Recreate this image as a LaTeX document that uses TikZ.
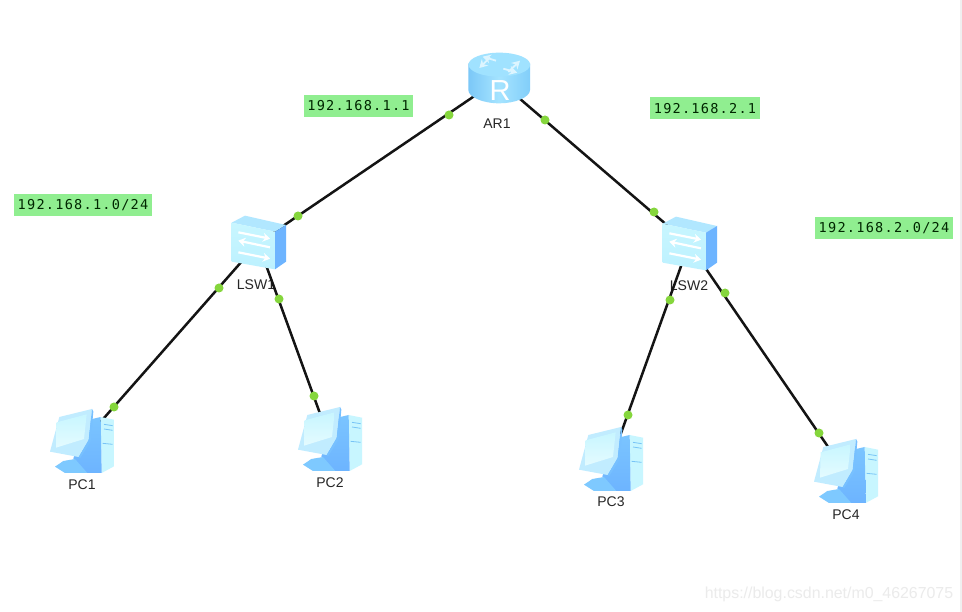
\documentclass[tikz,border=0pt]{standalone}
\usepackage{fontspec}
\setmainfont{Liberation Sans}
\newfontfamily\ipfont[LetterSpace=9]{DejaVu Sans Mono}
\definecolor{ipgreen}{HTML}{90EE90}
\definecolor{dotgreen}{HTML}{85D63C}
\definecolor{icona}{HTML}{8FDDFF}
\definecolor{iconb}{HTML}{78C4F6}
\definecolor{iconc}{HTML}{6DB4FF}
\definecolor{icond}{HTML}{C8F6FF}
\definecolor{icone}{HTML}{E4FBFF}
\usetikzlibrary{calc,arrows.meta}
\tikzset{
  anchorpt/.style={inner sep=0pt,minimum size=0pt},
  iplabel/.style={fill=ipgreen,inner sep=0pt,font=\ipfont\fontsize{13.6}{16}\selectfont,text=black!85!green,anchor=center},
  devlabel/.style={inner sep=0pt,font=\fontsize{14}{16}\selectfont,text=black!85},
  link/.style={draw=black!92,line width=2.5pt},
  portdot/.style={circle,fill=dotgreen,inner sep=0pt,minimum size=9pt},
  routerarrow/.style={draw=white!70!icona,line width=1.8pt,-{Stealth[length=8pt,width=9pt]}},
  router/.pic={
    \begin{scope}[shift={(-58,-40)},scale=1/3]
      \path[left color=iconb!85!icona,right color=iconb!60!icona,middle color=icona!80!white]
        (85,70) -- (85,150) .. controls (85,172) and (130,190) .. (178,190)
        .. controls (225,190) and (270,172) .. (270,150) -- (270,70) -- cycle;
      \path[fill=icona!85!white] (178,74) ellipse [x radius=92.5,y radius=36];
      \draw[routerarrow] (168,62) -- (128,50);
      \draw[routerarrow] (190,86) -- (232,98);
      \draw[routerarrow] (150,52) -- (118,84);
      \draw[routerarrow] (205,96) -- (240,62);
      \node[inner sep=0pt,text=white,font=\fontsize{29}{30}\selectfont] (rletter) at (180,153) {R};
    \end{scope}
  },
  switchicon/.pic={
    \begin{scope}[shift={(-48,-43)},scale=1/3]
      \path[fill=icona!70!white] (65,68) -- (105,47) -- (228,75) -- (195,95) -- cycle;
      \path[top color=icond,bottom color=icond!80!icona] (65,68) -- (195,95) -- (195,208) -- (65,185) -- cycle;
      \path[fill=iconc] (195,95) -- (228,75) -- (228,185) -- (195,208) -- cycle;
      \draw[white,line width=2.2pt,-{Stealth[length=7pt,width=9pt]}] (85,97) -- (180,116);
      \draw[white,line width=2.2pt,-{Stealth[length=7pt,width=9pt]}] (180,142) -- (85,122);
      \draw[white,line width=2.2pt,-{Stealth[length=7pt,width=9pt]}] (85,157) -- (180,176);
    \end{scope}
  },
  pcicon/.pic={
    \begin{scope}[shift={(-52,-48)},scale=1/3]
      \path[fill=icond] (212,66) -- (252,74) -- (252,214) -- (215,234) -- cycle;
      \path[top color=iconc!60!icona,bottom color=iconc] (178,74) -- (212,66) -- (215,234) -- (160,234) -- (130,190) -- cycle;
      \path[fill=iconc!50!icona] (75,215) -- (100,198) -- (135,192) -- (172,234) -- (105,234) -- cycle;
      \path[fill=icona!55!white] (88,66) -- (186,42) -- (176,135) -- (146,186) -- (60,170) -- cycle;
      \path[fill=iconc!70!icona] (186,42) -- (190,50) -- (182,140) -- (150,190) -- (146,186) -- (176,135) -- cycle;
      \path[top color=icond,bottom color=icone] (80,82) -- (170,58) -- (162,132) -- (78,158) -- cycle;
      \draw[iconb,line width=.8pt] (222,88) -- (248,92) (222,102) -- (248,106) (218,145) -- (248,148);
    \end{scope}
  }
}
\begin{document}
\begin{tikzpicture}[x=1pt,y=-1pt]
  \useasboundingbox (0,0) rectangle (962,612);
  \fill[white] (0,0) rectangle (962,612);
  \fill[black!6] (959.5,0) rectangle (962,612);

  % device anchors
  \node[anchorpt] (AR1) at (498,80) {};
  \node[anchorpt] (LSW1) at (258,243) {};
  \node[anchorpt] (LSW2) at (689,244) {};
  \node[anchorpt] (PC1) at (82,443) {};
  \node[anchorpt] (PC2) at (330,441) {};
  \node[anchorpt] (PC3) at (611,461) {};
  \node[anchorpt] (PC4) at (846,473) {};

  % device labels (the links pass over them)
  \node[devlabel] (lblAR1) at (497,123.5) {AR1};
  \node[devlabel] (lblLSW1) at (256,284.5) {LSW1};
  \node[devlabel] (lblLSW2) at (689,285.5) {LSW2};
  \node[devlabel] (lblPC1) at (82,484.5) {PC1};
  \node[devlabel] (lblPC2) at (330,482.5) {PC2};
  \node[devlabel] (lblPC3) at (611,501.5) {PC3};
  \node[devlabel] (lblPC4) at (846,514.5) {PC4};

  % links
  \draw[link] (AR1) -- (LSW1);
  \draw[link] (AR1) -- (LSW2);
  \draw[link] (LSW1) -- (PC1);
  \draw[link] (LSW1) -- (PC2);
  \draw[link] (LSW2) -- (PC3);
  \draw[link] (LSW2) -- (PC4);

  % port dots
  \node[portdot] (d1) at (449,115) {};
  \node[portdot] (d2) at (298,216) {};
  \node[portdot] (d3) at (545,120) {};
  \node[portdot] (d4) at (654,212) {};
  \node[portdot] (d5) at (219,288) {};
  \node[portdot] (d6) at (114,407) {};
  \node[portdot] (d7) at (279,299) {};
  \node[portdot] (d8) at (314,396) {};
  \node[portdot] (d9) at (670,300) {};
  \node[portdot] (d10) at (628,415) {};
  \node[portdot] (d11) at (725,293) {};
  \node[portdot] (d12) at (819,433) {};

  % icons
  \pic at (AR1) {router};
  \pic at (LSW1) {switchicon};
  \pic at (LSW2) {switchicon};
  \pic at (PC1) {pcicon};
  \pic at (PC2) {pcicon};
  \pic at (PC3) {pcicon};
  \pic at (PC4) {pcicon};

  % address labels
  \node[iplabel,minimum width=109pt,minimum height=22pt] (ip1) at (358.5,106) {192.168.1.1};
  \node[iplabel,minimum width=110pt,minimum height=22pt] (ip2) at (705,108.5) {192.168.2.1};
  \node[iplabel,minimum width=138pt,minimum height=22pt] (ip3) at (83,205) {192.168.1.0/24};
  \node[iplabel,minimum width=138pt,minimum height=22pt] (ip4) at (884,228) {192.168.2.0/24};

  % watermark
  \node[inner sep=0pt,text=black!8,font=\fontsize{15.9}{18}\selectfont] (wm) at (829,594) {https://blog.csdn.net/m0\_46267075};
\end{tikzpicture}
\end{document}
